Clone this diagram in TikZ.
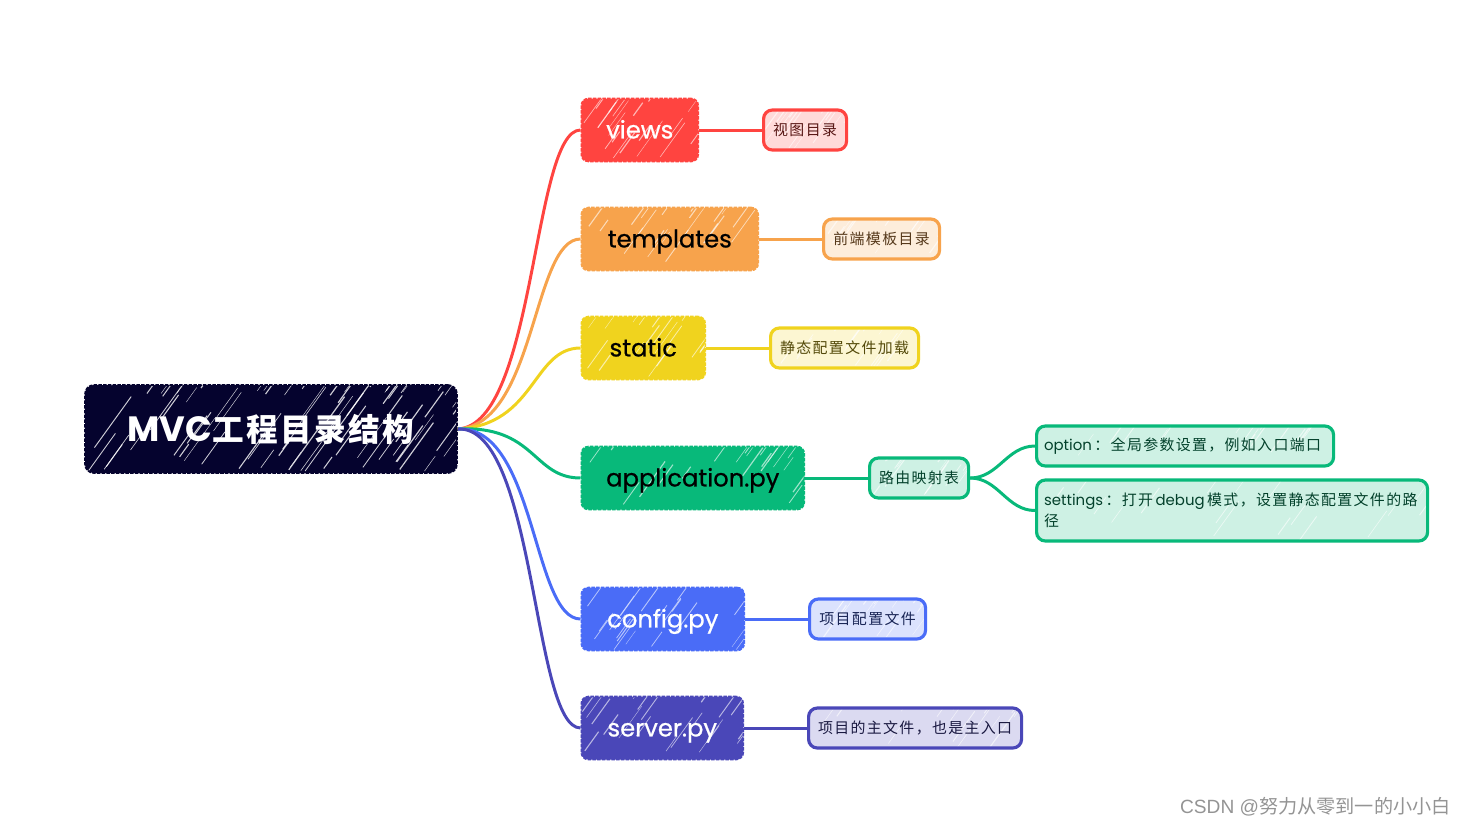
\documentclass[tikz,border=0pt]{standalone}
\usepackage{fontspec}
\setmainfont{Poppins}
\newfontfamily\lat[FakeBold=0.7]{Poppins}
\newfontfamily\cjk[LetterSpace=9]{Noto Sans CJK SC}
\newfontfamily\cjkroot[LetterSpace=8]{Noto Sans CJK SC}
\newfontfamily\cjkmark{Noto Sans CJK SC}
\newfontfamily\latmark{Liberation Sans}
\usetikzlibrary{calc}
\definecolor{rootc}{HTML}{05032E}
\definecolor{redc}{HTML}{FF4440}
\definecolor{orangec}{HTML}{F7A34C}
\definecolor{yellowc}{HTML}{F0D31E}
\definecolor{greenc}{HTML}{08B97A}
\definecolor{bluec}{HTML}{4A6CF7}
\definecolor{indigoc}{HTML}{4A47B8}
\newcommand{\hatchlines}[3]{% 白色斜线:数量,最长,透明度
  \foreach \i in {1,...,#1}{
    \pgfmathsetmacro\hx{rnd}
    \pgfmathsetmacro\hy{rnd}
    \pgfmathsetmacro\hl{10+rnd*#2}
    \pgfmathsetmacro\hw{0.2+rnd*0.5}
    \draw[solid,white,line width=\hw pt,opacity=#3]
      ($(path picture bounding box.south west)!\hx!(path picture bounding box.south east)
        +\hy*(path picture bounding box.north west)-\hy*(path picture bounding box.south west)$)
      -- ++(0.72*\hl,-\hl);
  }
}
\tikzset{
  x=0.02cm,y=-0.02cm,
  rough/.style={draw=#1,line width=0.9pt,dash pattern=on 2pt off 0.7pt},
  rootbox/.style={rough=rootc,fill=rootc,text=white,rounded corners=5pt,inner sep=0pt,
    font=\fontsize{20}{22}\selectfont\bfseries,
    path picture={\hatchlines{75}{42}{0.8}}},
  mainbox/.style 2 args={rough=#1,fill=#1,text=#2,rounded corners=4pt,inner sep=0pt,
    anchor=west,minimum height=63*0.02cm,text height=12pt,text depth=2.4pt,
    font=\fontsize{13.8}{16}\selectfont\lat,
    path picture={\hatchlines{20}{26}{0.6}}},
  leafbox/.style={draw=#1,line width=1.8pt,fill=#1!20,text=#1!35!black,rounded corners=5pt,
    inner sep=0pt,anchor=west,minimum height=40*0.02cm,font=\fontsize{8.5}{12}\selectfont,
    path picture={\hatchlines{18}{26}{0.6}}},
  link/.style={draw=#1,line width=1.7pt},
}
\begin{document}
\begin{tikzpicture}
  \useasboundingbox (0,0) rectangle (1464,826);
  \pgfmathsetseed{17}
  % 中心主题
  \node[rootbox,minimum width=372*0.02cm,minimum height=88*0.02cm] (root) at (271,429)
    {MVC{\cjkroot\fontsize{18}{20}\selectfont\bfseries 工程目录结构}};
  % 一级分支
  \foreach \name/\wid/\ypos/\col/\txt/\lab in {
      views/117/130/redc/white/views,
      templates/177/239/orangec/black/templates,
      static/124/348/yellowc/black/static,
      application/223/478/greenc/black/application.py,
      config/163/619/bluec/white/config.py,
      server/162/728/indigoc/white/server.py}
    {
      \node[mainbox={\col}{\txt},minimum width=\wid*0.02cm] (\name) at (580.5,\ypos) {\lab};
      \draw[link=\col] (root.east) .. controls +(78,-4) and +(-48,0) .. (\name.west);
    }
  % 二级分支
  \foreach \name/\from/\xpos/\wid/\ypos/\col/\lab in {
      viewsleaf/views/762/83/130/redc/视图目录,
      templatesleaf/templates/822/116/239/orangec/前端模板目录,
      staticleaf/static/769/148/348/yellowc/静态配置文件加载,
      route/application/868/99/478/greenc/路由映射表,
      configleaf/config/808/116/619/bluec/项目配置文件,
      serverleaf/server/807/213/728/indigoc/{项目的主文件，也是主入口}}
    {
      \node[leafbox=\col,minimum width=\wid*0.02cm] (\name) at (\xpos,\ypos) {\cjk\lab};
      \draw[link=\col] (\from.east) -- (\name.west);
    }
  % 三级分支
  \node[leafbox=greenc,minimum width=297*0.02cm,text width=282*0.02cm,align=left] (option) at (1035,446)
    {option\,{\cjk ：全局参数设置，例如入口端口}};
  \node[leafbox=greenc,minimum width=391*0.02cm,minimum height=61*0.02cm,
    text width=376*0.02cm,align=left] (settings) at (1035,510.5)
    {settings\,{\cjk ：打开}\,debug\,{\cjk 模式，设置静态配置文件的路\\径}};
  \draw[link=greenc] (route.east) to[out=0,in=180] (option.west);
  \draw[link=greenc] (route.east) to[out=0,in=180] (settings.west);
  % 水印
  \node[anchor=east,text=black!42,font=\fontsize{10.9}{13}\selectfont,inner sep=0pt] (mark) at (1451,807)
    {\latmark CSDN @\cjkmark 努力从零到一的小小白};
\end{tikzpicture}
\end{document}
